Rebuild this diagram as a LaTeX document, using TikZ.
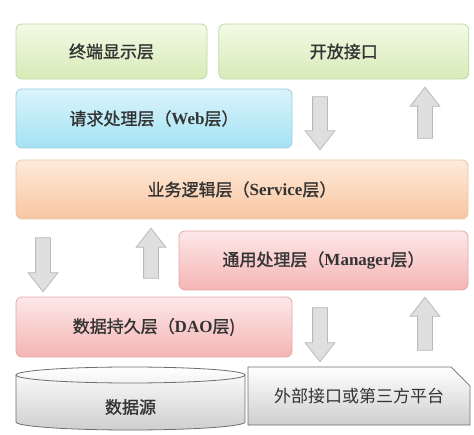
\documentclass[tikz,border=0pt]{standalone}
\usepackage{fontspec}
\setmainfont{Noto Sans CJK SC}
\newfontfamily\cjkb{Noto Sans CJK SC}[FakeBold=1.2]
\newfontfamily\latb{Liberation Serif}
\usetikzlibrary{positioning,shapes.geometric,shapes.arrows,shapes.misc}
\definecolor{grnA}{HTML}{F3FAE6}\definecolor{grnB}{HTML}{D6EBB7}\definecolor{grnL}{HTML}{C2D6A6}
\definecolor{bluA}{HTML}{DAF4FB}\definecolor{bluB}{HTML}{A4E2F4}\definecolor{bluL}{HTML}{9CCCDD}
\definecolor{orgA}{HTML}{FEEADA}\definecolor{orgB}{HTML}{F8C6A0}\definecolor{orgL}{HTML}{E6C6A8}
\definecolor{pnkA}{HTML}{FDE8E8}\definecolor{pnkB}{HTML}{F5B4B4}\definecolor{pnkL}{HTML}{E2A8A8}
\definecolor{gryL}{HTML}{6E6E6E}\definecolor{txt}{HTML}{333333}
\tikzset{layer/.style={rounded corners=6, draw, line width=0.8pt, text=txt, font=\cjkb\fontsize{17}{19}\selectfont, inner sep=0pt}}
\tikzset{lgreen/.style={layer, draw=grnL, top color=grnA, bottom color=grnB}}
\tikzset{lblue/.style={layer, draw=bluL, top color=bluA, bottom color=bluB}}
\tikzset{lorange/.style={layer, draw=orgL, top color=orgA, bottom color=orgB}}
\tikzset{lpink/.style={layer, draw=pnkL, top color=pnkA, bottom color=pnkB}}
\tikzset{gshade/.style={draw=gryL, line width=0.8pt, top color=white, bottom color=gray!38}}
\tikzset{flow/.style={single arrow, draw=gray!55, fill=gray!25, line width=0.8pt, inner xsep=0pt, inner ysep=7pt, single arrow head extend=7.5pt, single arrow tip angle=76, minimum height=#1}}
\newcommand{\lt}[1]{{\latb\bfseries #1}}
\begin{document}
\begin{tikzpicture}[x=1pt,y=1pt]
	\useasboundingbox (0,0) rectangle (474,434);
	\node[lgreen, minimum width=191, minimum height=55] (term) at (111.5,382.5) {终端显示层};
	\node[lgreen, minimum width=250, minimum height=55, right=11 of term] (open) {开放接口};
	\node[lblue, minimum width=276, minimum height=59] (web) at (154,315.5) {请求处理层（\lt{Web}层）};
	\node[lorange, minimum width=452, minimum height=59] (service) at (242,244.5) {业务逻辑层（\lt{Service}层）};
	\node[lpink, minimum width=289, minimum height=59] (manager) at (323.5,173.5) {通用处理层（\lt{Manager}层）};
	\node[lpink, minimum width=276, minimum height=60] (dao) at (154,107) {数据持久层（\lt{DAO}层)};
	%
	% data source drum
	\path[gshade] (16,59) -- (16,12) arc[start angle=180, end angle=360, x radius=114.5, y radius=8]
		-- (245,59) arc[start angle=0, end angle=180, x radius=114.5, y radius=8] -- cycle;
	\draw[draw=gryL, line width=0.8pt] (16,59) arc[start angle=180, end angle=360, x radius=114.5, y radius=8];
	\node[text=txt, font=\cjkb\fontsize{17}{19}\selectfont] (db) at (130.5,27) {数据源};
	%
	\node[chamfered rectangle, chamfered rectangle corners=north east, chamfered rectangle sep=11pt, gshade,
		minimum width=222, minimum height=58, inner sep=0pt, text=txt,
		font=\fontsize{17}{19}\selectfont] (ext) at (359,38) {外部接口或第三方平台};
	%
	\node[flow=53, rotate=-90] (d1) at (320,315.5) {};
	\node[flow=51, rotate=90] (u1) at (425,316.5) {};
	\node[flow=54, rotate=-90] (d2) at (43,174) {};
	\node[flow=50, rotate=90] (u2) at (151,176) {};
	\node[flow=54, rotate=-90] (d3) at (320,104) {};
	\node[flow=53, rotate=90] (u3) at (425,105.5) {};
\end{tikzpicture}
\end{document}
